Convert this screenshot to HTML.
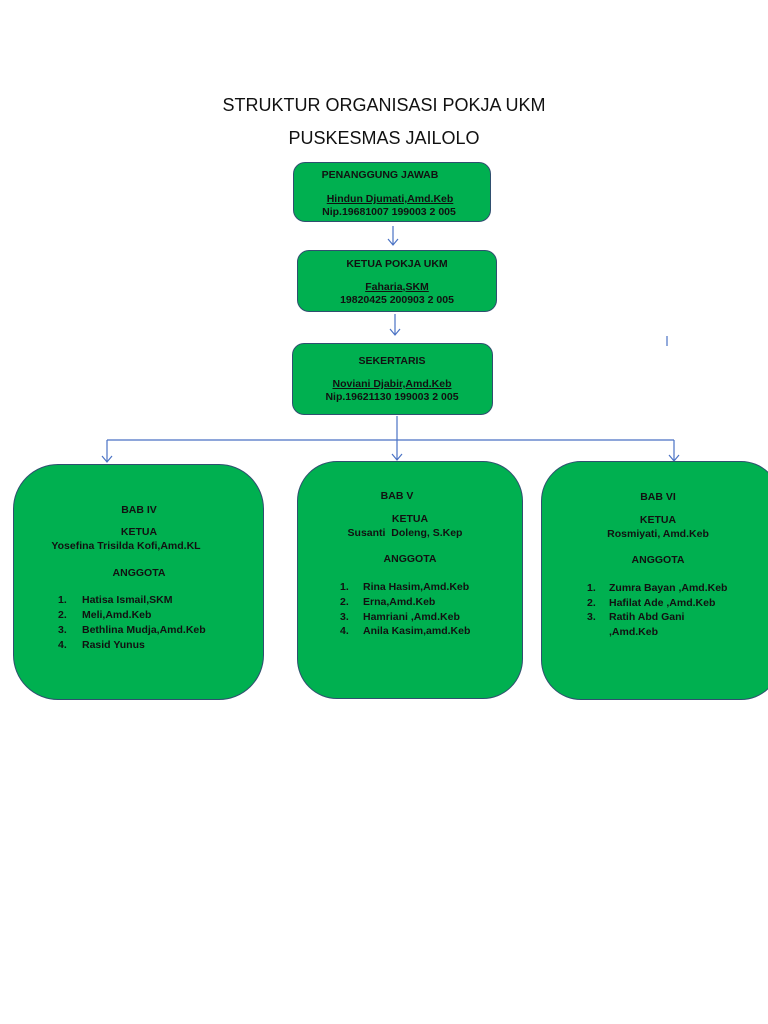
<!DOCTYPE html>
<html><head><meta charset="utf-8"><style>
body{margin:0;width:768px;height:1024px;background:#fff;position:relative;overflow:hidden;font-family:"Liberation Sans",sans-serif}
.b{position:absolute;background:#00b050;border:1.3px solid #2f4f6f;box-sizing:border-box}
.t{position:absolute;width:300px;text-align:center;font-size:10.5px;font-weight:bold;color:#111;line-height:12px;white-space:nowrap}
.l{position:absolute;font-size:10.5px;font-weight:bold;color:#111;line-height:12px;white-space:nowrap}
.u{text-decoration:underline}
.h{position:absolute;width:400px;text-align:center;font-size:18px;color:#111;left:184px}
</style></head><body>
<div class="h" style="top:95px">STRUKTUR ORGANISASI POKJA UKM</div>
<div class="h" style="top:128px">PUSKESMAS JAILOLO</div>

<svg width="768" height="1024" style="position:absolute;left:0;top:0">
<g stroke="#4a72c4" stroke-width="1.2" fill="none">
<line x1="393" y1="226" x2="393" y2="245"/><polyline points="388,239 393,245 398,239"/>
<line x1="395" y1="314" x2="395" y2="335"/><polyline points="390,329 395,335 400,329"/>
<line x1="397" y1="416" x2="397" y2="460"/><polyline points="392,454 397,460 402,454"/>
<line x1="107" y1="440" x2="674" y2="440"/>
<line x1="107" y1="440" x2="107" y2="462"/><polyline points="102,456 107,462 112,456"/>
<line x1="674" y1="440" x2="674" y2="461"/><polyline points="669,455 674,461 679,455"/>
<line x1="667" y1="336" x2="667" y2="346"/>
</g></svg>

<div class="b" style="left:293px;top:162px;width:198px;height:60px;border-radius:12px"></div>
<div class="b" style="left:297px;top:250px;width:200px;height:62px;border-radius:12px"></div>
<div class="b" style="left:292px;top:343px;width:201px;height:72px;border-radius:12px"></div>
<div class="b" style="left:13px;top:464px;width:251px;height:236px;border-radius:45px"></div>
<div class="b" style="left:297px;top:461px;width:226px;height:238px;border-radius:40px"></div>
<div class="b" style="left:541px;top:461px;width:240px;height:239px;border-radius:40px"></div>

<div class="t" style="left:230px;top:169px">PENANGGUNG JAWAB</div>
<div class="t u" style="left:240px;top:193px">Hindun Djumati,Amd.Keb</div>
<div class="t" style="left:239px;top:206px">Nip.19681007 199003 2 005</div>

<div class="t" style="left:247px;top:258px">KETUA POKJA UKM</div>
<div class="t u" style="left:247px;top:281px">Faharia,SKM</div>
<div class="t" style="left:247px;top:294px">19820425 200903 2 005</div>

<div class="t" style="left:242px;top:355px">SEKERTARIS</div>
<div class="t u" style="left:242px;top:378px">Noviani Djabir,Amd.Keb</div>
<div class="t" style="left:242px;top:391px">Nip.19621130 199003 2 005</div>

<div class="t" style="left:-11px;top:504px">BAB IV</div>
<div class="t" style="left:-11px;top:526px">KETUA</div>
<div class="t" style="left:-24px;top:540px">Yosefina Trisilda Kofi,Amd.KL</div>
<div class="t" style="left:-11px;top:567px">ANGGOTA</div>
<div class="l" style="left:58px;top:594px">1.</div><div class="l" style="left:82px;top:594px">Hatisa Ismail,SKM</div>
<div class="l" style="left:58px;top:609px">2.</div><div class="l" style="left:82px;top:609px">Meli,Amd.Keb</div>
<div class="l" style="left:58px;top:624px">3.</div><div class="l" style="left:82px;top:624px">Bethlina Mudja,Amd.Keb</div>
<div class="l" style="left:58px;top:639px">4.</div><div class="l" style="left:82px;top:639px">Rasid Yunus</div>

<div class="t" style="left:247px;top:490px">BAB V</div>
<div class="t" style="left:260px;top:513px">KETUA</div>
<div class="t" style="left:255px;top:527px">Susanti &nbsp;Doleng, S.Kep</div>
<div class="t" style="left:260px;top:553px">ANGGOTA</div>
<div class="l" style="left:340px;top:581px">1.</div><div class="l" style="left:363px;top:581px">Rina Hasim,Amd.Keb</div>
<div class="l" style="left:340px;top:596px">2.</div><div class="l" style="left:363px;top:596px">Erna,Amd.Keb</div>
<div class="l" style="left:340px;top:611px">3.</div><div class="l" style="left:363px;top:611px">Hamriani ,Amd.Keb</div>
<div class="l" style="left:340px;top:625px">4.</div><div class="l" style="left:363px;top:625px">Anila Kasim,amd.Keb</div>

<div class="t" style="left:508px;top:491px">BAB VI</div>
<div class="t" style="left:508px;top:514px">KETUA</div>
<div class="t" style="left:508px;top:528px">Rosmiyati, Amd.Keb</div>
<div class="t" style="left:508px;top:554px">ANGGOTA</div>
<div class="l" style="left:587px;top:582px">1.</div><div class="l" style="left:609px;top:582px">Zumra Bayan ,Amd.Keb</div>
<div class="l" style="left:587px;top:597px">2.</div><div class="l" style="left:609px;top:597px">Hafilat Ade ,Amd.Keb</div>
<div class="l" style="left:587px;top:611px">3.</div><div class="l" style="left:609px;top:611px">Ratih Abd Gani</div>
<div class="l" style="left:609px;top:626px">,Amd.Keb</div>
</body></html>
